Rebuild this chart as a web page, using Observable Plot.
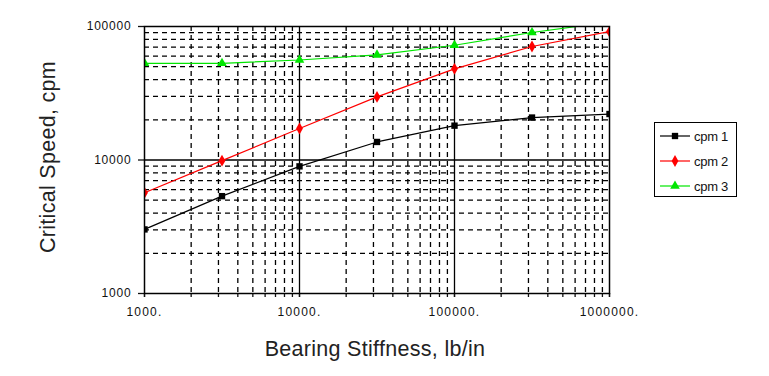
<!DOCTYPE html>
<html>
<head>
<meta charset="utf-8">
<script src="https://cdn.jsdelivr.net/npm/d3@7"></script>
<script src="https://cdn.jsdelivr.net/npm/@observablehq/plot@0.6"></script>
<style>
  html, body { margin: 0; padding: 0; background: #fff; }
  #wrap { position: relative; width: 769px; height: 376px; font-family: "Liberation Sans", Arial, sans-serif; }
  #legend { position: absolute; left: 654px; top: 122px; width: 83px; height: 75px; border: 1.5px solid #000; background: #fff; box-sizing: border-box; font-size: 13px; color: #111; }
  .item { position: absolute; left: 4px; height: 14px; display: flex; align-items: center; }
  .item span { margin-left: 3px; letter-spacing: -0.3px; }
</style>
</head>
<body>
<div id="wrap"></div>
<script>
const stiffness = [1000, 3162, 10000, 31623, 100000, 316228, 1000000];
const cpm1 = [3020, 5360, 8960, 13650, 18080, 20800, 22100];
const cpm2 = [5680, 9890, 17200, 29700, 48200, 70800, 91600];
const cpm3 = [53000, 53000, 56100, 61200, 72400, 90200, 108000];
const seriesNames = ["cpm 1", "cpm 2", "cpm 3"];
const seriesColors = ["#000000", "#ff0000", "#00e600"];
const seriesSymbols = ["square", "diamond", "triangle"];
const xTicks = [1000, 10000, 100000, 1000000];
const yTicks = [1000, 10000, 100000];
const xTitle = "Bearing Stiffness, lb/in";
const yTitle = "Critical Speed, cpm";

const seriesValues = [cpm1, cpm2, cpm3];
const data = [];
seriesValues.forEach((vals, i) => vals.forEach((v, j) => data.push({series: seriesNames[i], x: stiffness[j], y: v})));

const minorX = [], minorY = [];
for (const k of [1000, 10000, 100000]) for (let m = 2; m <= 9; m++) minorX.push(m * k);
for (const k of [1000, 10000]) for (let m = 2; m <= 9; m++) minorY.push(m * k);
const majorXInner = xTicks.slice(1, -1);
const majorYInner = yTicks.slice(1, -1);

const chart = Plot.plot({
  width: 769, height: 376,
  marginLeft: 144, marginRight: 160, marginTop: 26, marginBottom: 83,
  style: {fontFamily: "Liberation Sans, Arial, sans-serif", background: "transparent", overflow: "visible", color: "#111"},
  x: {type: "log", domain: [1000, 1000000], label: null},
  y: {type: "log", domain: [1000, 100000], label: null},
  color: {domain: seriesNames, range: seriesColors},
  symbol: {domain: seriesNames, range: seriesSymbols},
  marks: [
    Plot.ruleX(minorX, {stroke: "#000", strokeWidth: 1.3, strokeDasharray: "5,4"}),
    Plot.ruleY(minorY, {stroke: "#000", strokeWidth: 1.3, strokeDasharray: "5,4"}),
    Plot.ruleX(majorXInner, {stroke: "#000", strokeWidth: 1.3}),
    Plot.ruleY(majorYInner, {stroke: "#000", strokeWidth: 1.3}),
    Plot.axisX(xTicks.concat(minorX), {tickSize: 4, tickFormat: () => "", label: null, strokeWidth: 1.3}),
    Plot.axisX(xTicks, {tickSize: 4, tickPadding: 10, fontSize: 12, tickFormat: d => d + ".", label: null, strokeWidth: 1.3}),
    Plot.axisY(yTicks, {tickSize: 6, tickPadding: 7, fontSize: 12, tickFormat: d => String(d), label: null, strokeWidth: 1.3}),
    Plot.line(data, {x: "x", y: "y", z: "series", stroke: "series", strokeWidth: 1.2, clip: true}),
    Plot.dot(data, {x: "x", y: "y", fill: "series", symbol: "series", r: 3.6, clip: true}),
    Plot.frame({stroke: "#000", strokeWidth: 1.5})
  ]
});
const wrap = document.getElementById("wrap");
wrap.appendChild(chart);

const svg = d3.select(chart);
svg.selectAll("g[aria-label='x-axis tick label'] text").attr("letter-spacing", "1.2px");
svg.selectAll("g[aria-label='y-axis tick label'] text").attr("letter-spacing", "0.8px");

// axis titles
svg.append("text").attr("x", 375).attr("y", 356).attr("text-anchor", "middle")
  .attr("font-size", 21.5).attr("letter-spacing", "0.3px").attr("fill", "#222").text(xTitle);
svg.append("text").attr("transform", "translate(55,157) rotate(-90)").attr("text-anchor", "middle")
  .attr("font-size", 21.5).attr("letter-spacing", "0.3px").attr("fill", "#222").text(yTitle);

// legend
const lg = document.createElement("div");
lg.id = "legend";
seriesNames.forEach((name, i) => {
  const it = document.createElement("div");
  it.className = "item";
  it.style.top = (6 + i * 25) + "px";
  const sym = d3.symbol(i === 0 ? d3.symbolSquare : i === 1 ? d3.symbolDiamond : d3.symbolTriangle, 40)();
  it.innerHTML = `<svg width="32" height="14"><line x1="1" x2="31" y1="7" y2="7" stroke="${seriesColors[i]}" stroke-width="1.2"/><path transform="translate(16,7)" d="${sym}" fill="${seriesColors[i]}"/></svg><span>${name}</span>`;
  lg.appendChild(it);
});
wrap.appendChild(lg);
</script>
</body>
</html>
